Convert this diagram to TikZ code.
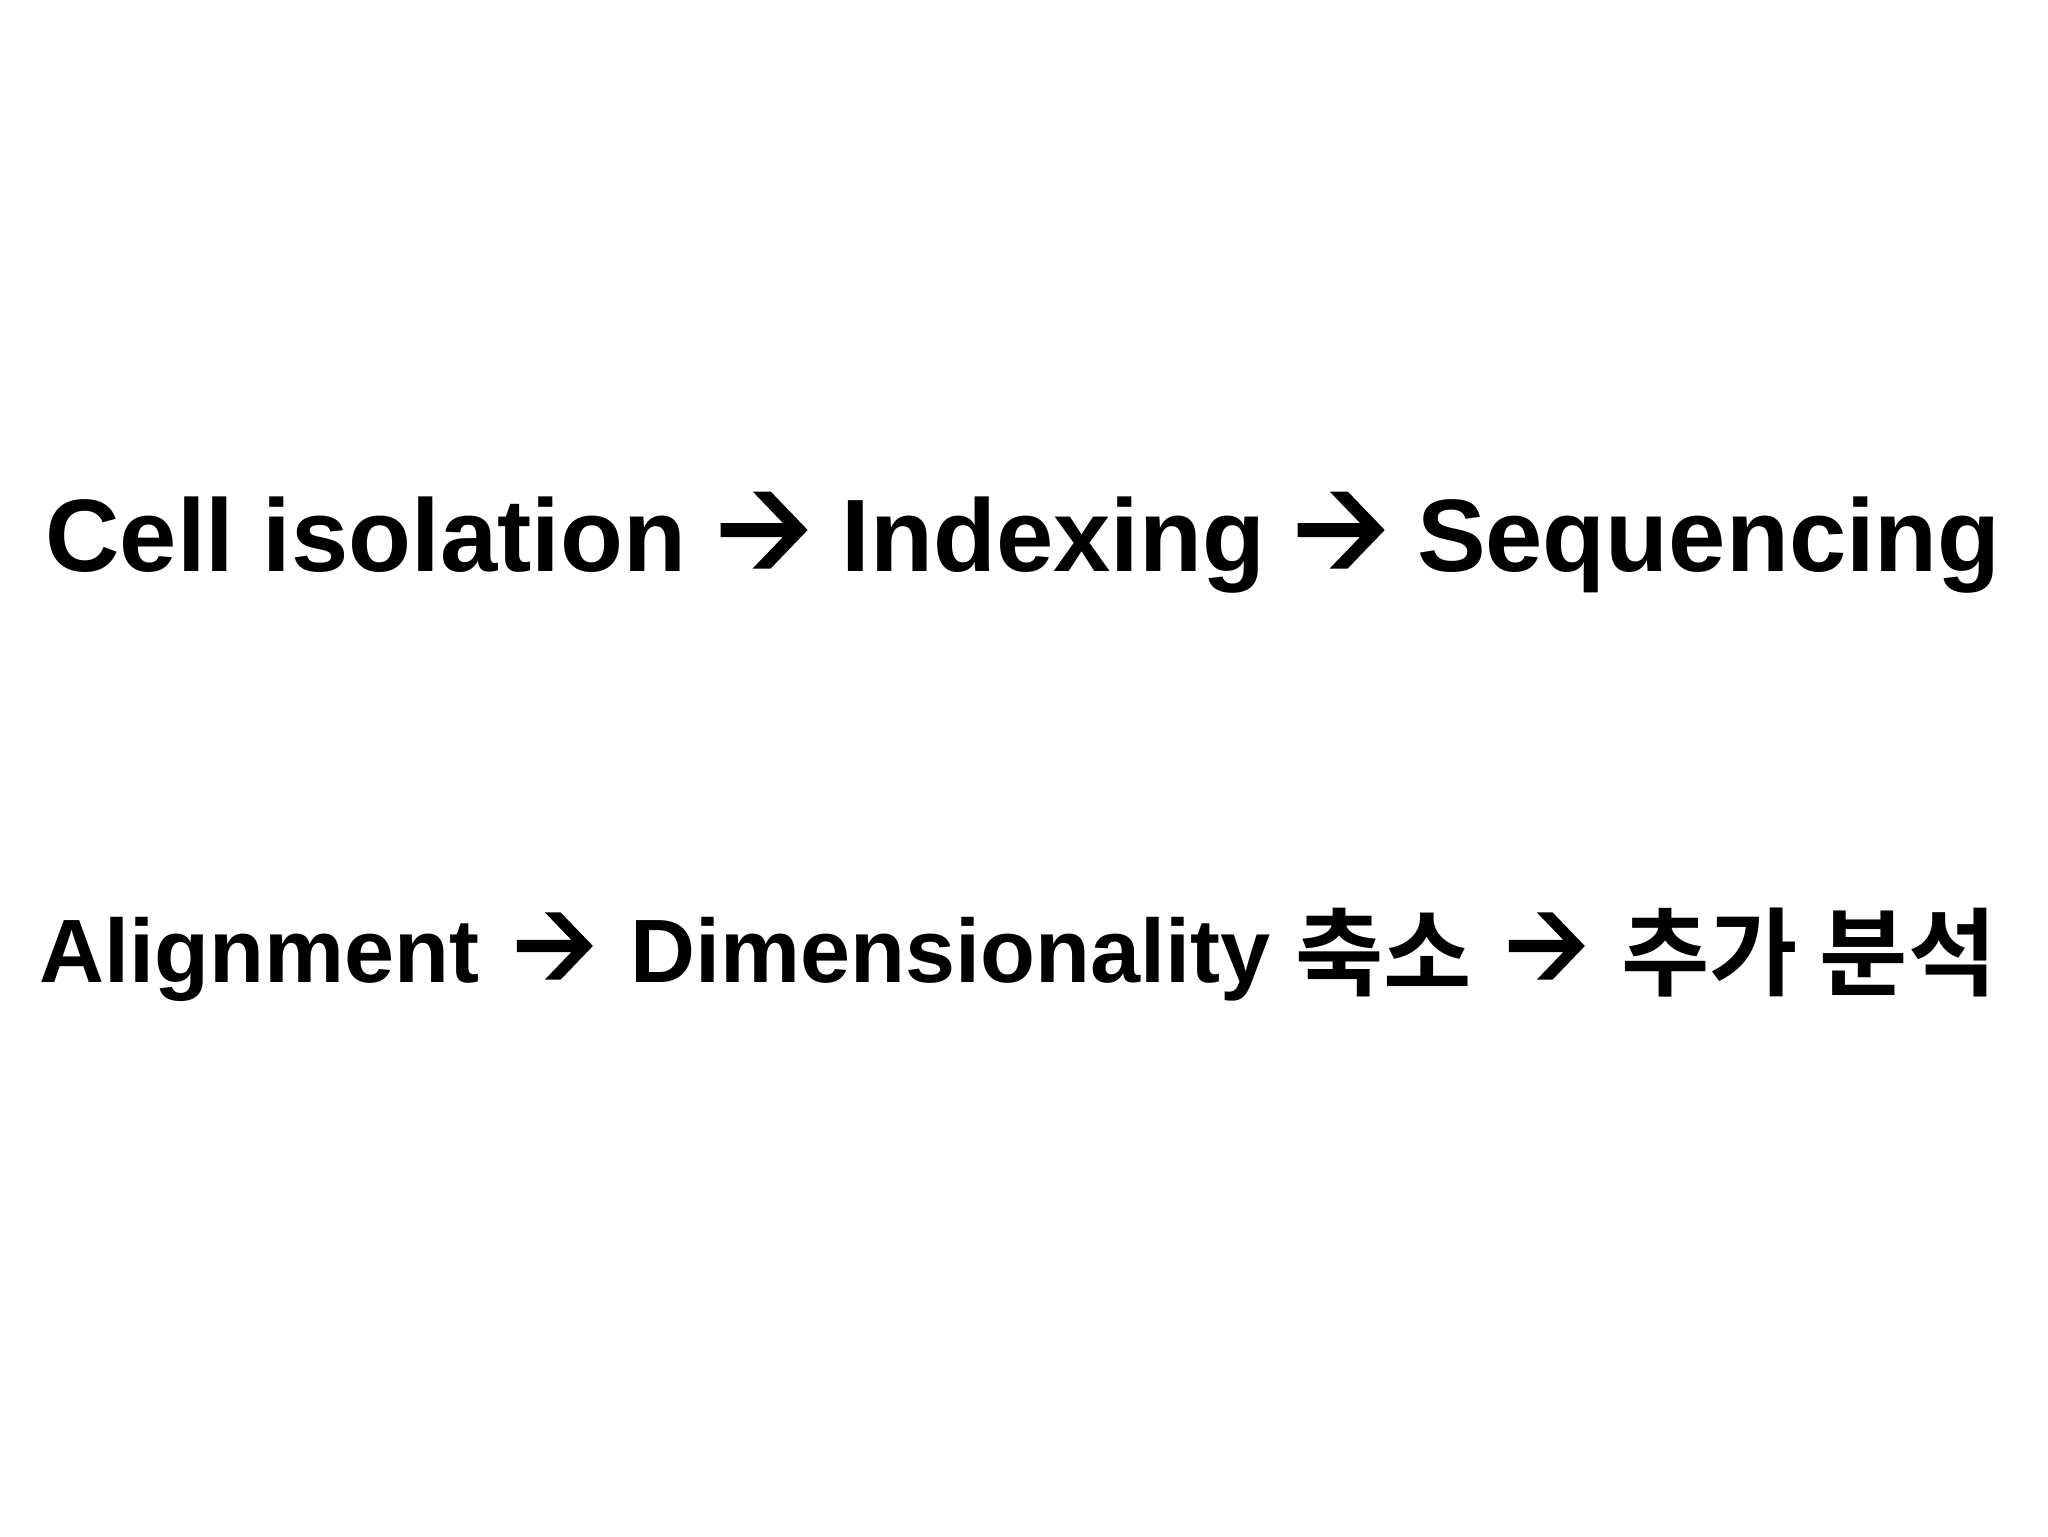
\documentclass[tikz,border=0pt]{standalone}
\usepackage{fontspec}
\setmainfont{Liberation Sans}
\newfontfamily\kr{Noto Sans CJK KR}[BoldFont={* Bold}]
\newcommand\krtext[1]{\raisebox{-3pt}{\kr\fontsize{48}{54}\selectfont\bfseries #1}}
\usetikzlibrary{calc}
\tikzset{
  x=0.5pt, y=-0.5pt,
  lineone/.style={inner sep=0pt, anchor=base west, font=\fontsize{51.5}{60}\selectfont\bfseries},
  linetwo/.style={inner sep=0pt, anchor=base west, font=\fontsize{45}{54}\selectfont\bfseries},
  flowarrow/.pic={
    \fill[black] (-43.5,-7) -- (18.8,-7) -- (-11.5,-38.5) -- (6.5,-38.5) -- (43.5,0)
      -- (6.5,38.5) -- (-11.5,38.5) -- (18.8,7) -- (-43.5,7) -- cycle;
  }
}
\begin{document}
\begin{tikzpicture}
\fill[white] (0,0) rectangle (2048,1536);
\useasboundingbox (0,0) rectangle (2048,1536);
% line 1
\node[lineone] (cell) at (45,571) {Cell isolation};
\node[lineone] (index) at (841.5,571) {Indexing};
\node[lineone] (seq) at (1416.6,571) {Sequencing};
\pic at ($(cell.base east)!0.5!(index.base west)+(0,-41)$) {flowarrow};
\pic at ($(index.base east)!0.5!(seq.base west)+(0,-41)$) {flowarrow};
% line 2
\node[linetwo] (align) at (39,982) {Alignment};
\node[linetwo] (dim) at (630,982) {Dimensionality \krtext{축소}};
\node[linetwo] (more) at (1621,982) {\krtext{추가 분석}};
\pic[scale=0.874] at ($(align.base east)!0.5!(dim.base west)+(0,-36)$) {flowarrow};
\pic[scale=0.874] at ($(dim.base east)!0.5!(more.base west)+(0,-36)$) {flowarrow};
\end{tikzpicture}
\end{document}
